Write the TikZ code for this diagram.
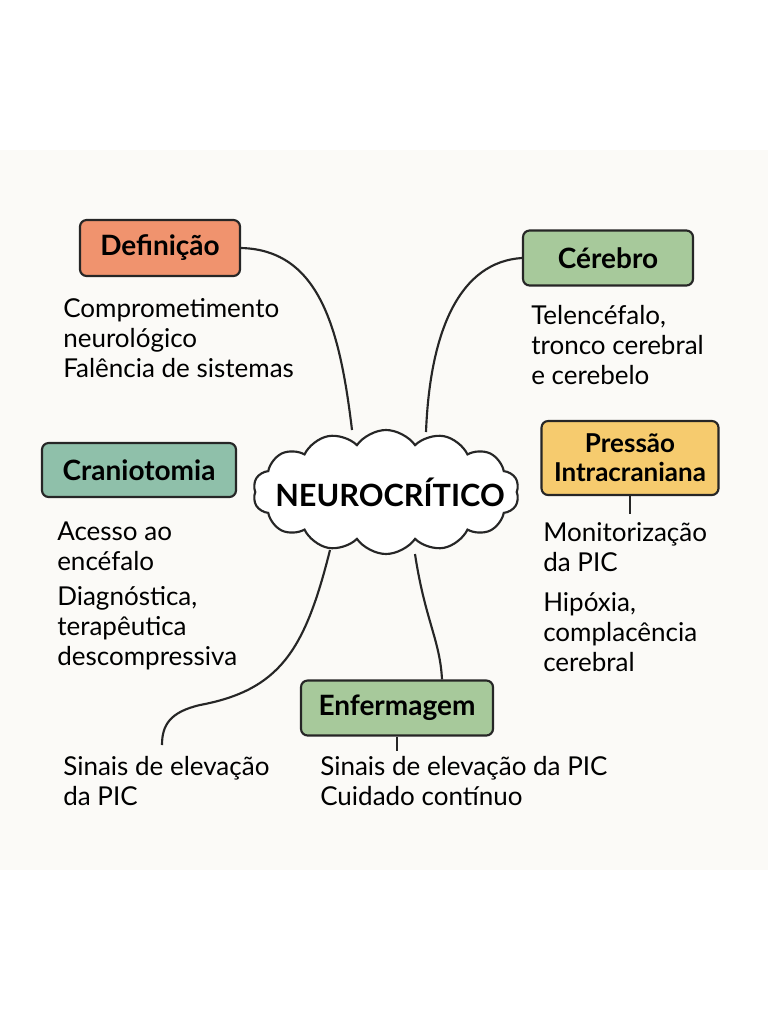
\documentclass[tikz,border=0pt]{standalone}
\usepackage{fontspec}
\setmainfont{Lato}
\usetikzlibrary{shapes.symbols}
\definecolor{bgc}{HTML}{FBFAF7}
\definecolor{orng}{HTML}{F0936E}
\definecolor{grn}{HTML}{A7C99B}
\definecolor{teal}{HTML}{8FC0AA}
\definecolor{yel}{HTML}{F6CB6E}
\begin{document}
\begin{tikzpicture}[x=0.75pt,y=-0.75pt,
  topic/.style={draw=black!85,line width=1.6pt,rounded corners=5pt,font=\fontsize{21}{23}\selectfont\bfseries,inner sep=0pt,align=center},
  body/.style={anchor=north west,align=left,inner sep=0pt,font=\fontsize{19.5}{22.5}\selectfont},
  link/.style={line width=1.6pt,black!85}]
\fill[white] (0,0) rectangle (768,1024);
\fill[bgc] (0,150) rectangle (768,870);
\useasboundingbox (0,0) rectangle (768,1024);
\node[cloud,cloud puffs=14,cloud puff arc=110,aspect=2.15,draw=black!85,line width=1.6pt,fill=white,minimum width=266*0.75pt,minimum height=124*0.75pt,inner sep=0pt] (c) at (386,492) {};
\node (ct) at (390,492) {\fontsize{23}{25}\selectfont\bfseries NEUROCRÍTICO};
\node[topic,fill=orng,minimum width=160*0.75pt,minimum height=56*0.75pt] (def) at (160,248) {Definição};
\node[topic,fill=grn,minimum width=170*0.75pt,minimum height=55*0.75pt] (cer) at (608,258) {Cérebro};
\node[topic,fill=teal,minimum width=194*0.75pt,minimum height=54*0.75pt] (cra) at (139,470) {Craniotomia};
\node[topic,fill=yel,minimum width=177*0.75pt,minimum height=74*0.75pt,font=\fontsize{19.5}{21.5}\selectfont\bfseries] (pic) at (630,458) {Pressão\\Intracraniana};
\node[topic,fill=grn,minimum width=192*0.75pt,minimum height=55*0.75pt] (enf) at (397,708) {Enfermagem};
\node[body] (t1) at (63,298) {Comprometimento\\neurológico\\Falência de sistemas};
\node[body] (t2) at (531,305) {Telencéfalo,\\tronco cerebral\\e cerebelo};
\node[body] (t3) at (57,522) {Acesso ao\\encéfalo};
\node[body] (t3b) at (57,586) {Diagnóstica,\\terapêutica\\descompressiva};
\node[body] (t4) at (543,522) {Monitorização\\da PIC};
\node[body] (t4b) at (543,592) {Hipóxia,\\complacência\\cerebral};
\node[body] (t5) at (63,756) {Sinais de elevação\\da PIC};
\node[body] (t6) at (320,756) {Sinais de elevação da PIC\\Cuidado contínuo};
\coordinate (e5) at (162,745);
\coordinate (cl1) at (352,430);
\coordinate (cl2) at (426,432);
\coordinate (cl3) at (330,550);
\coordinate (cl4) at (415,554);
\draw[link] (def.east) .. controls (320,250) and (340,330) .. (cl1);
\draw[link] (cer.west) .. controls (460,262) and (430,330) .. (cl2);
\draw[link] (cl3) .. controls (305,650) and (280,690) .. (200,705) .. controls (170,712) and (162,725) .. (e5);
\draw[link] (cl4) .. controls (425,620) and (440,640) .. (enf.north -| 442,0);
\draw[link] (pic.south) -- ++(0,18);
\draw[link] (enf.south) -- ++(0,14);
\end{tikzpicture}
\end{document}
